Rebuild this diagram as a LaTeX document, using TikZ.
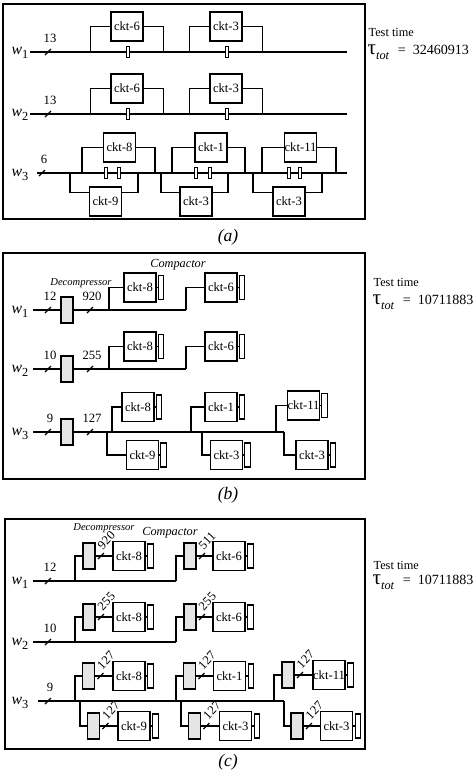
\documentclass[tikz,border=0pt]{standalone}
\usepackage{fontspec}
\setmainfont{Liberation Serif}
\tikzset{>=stealth}
\tikzset{
  ckt/.style={draw, minimum width=0.64cm, minimum height=0.58cm, inner sep=0pt, font=\fontsize{7.2}{8}\selectfont},
  dec/.style={draw, fill=gray!20, minimum width=0.24cm, minimum height=0.52cm, inner sep=0pt},
  cmp/.style={draw, minimum width=0.11cm, minimum height=0.48cm, inner sep=0pt},
  byp/.style={draw, fill=white, minimum width=0.06cm, minimum height=0.22cm, inner sep=0pt},
  num/.style={font=\fontsize{7.2}{8}\selectfont, inner sep=0pt},
  wl/.style={font=\fontsize{9}{10}\selectfont, inner sep=0pt},
  tt/.style={font=\fontsize{7}{8}\selectfont, anchor=west, inner sep=0pt},
  subcap/.style={font=\fontsize{10}{12}\selectfont\itshape, inner sep=0pt},
}
\newcommand{\wlab}[1]{\textit{w}\raisebox{-0.55ex}{\fontsize{7}{8}\selectfont #1}}
\newcommand{\busmark}[4]{\draw (#1-3,#2+3) -- (#1+3,#2-3); \node[num, anchor=south] (#4) at (#1+2,#2-9) {#3};}
\newcommand{\busrot}[4]{\draw (#1-3,#2+3) -- (#1+3,#2-3); \node[num, anchor=south west, rotate=47] (#4) at (#1+2,#2-5) {#3};}
\newcommand{\ttime}[1]{{\fontsize{12}{12}\selectfont τ}\raisebox{-0.6ex}{\fontsize{7}{8}\selectfont\itshape tot}\ \ {\fontsize{8}{9}\selectfont= \ #1}}

\begin{document}
\begin{tikzpicture}[x=0.02cm, y=-0.02cm, line width=0.7pt]
\useasboundingbox (0,0) rectangle (474,771);

% (a) bypass
\draw (3,4) rectangle (365,219);
\foreach \r/\y in {1/52, 2/114} {
  \node[wl] (wa\r) at (20,\y+1) {\wlab{\r}};
  \coordinate (sa\r) at (30,\y);
  \coordinate (ea\r) at (347,\y);
  \draw (sa\r) -- (ea\r);
  \busmark{48}{\y}{13}{na\r}
  \foreach \cx/\k in {127/6, 226/3} {
    \node[ckt] (a\r c\k) at (\cx,\y-25.5) {ckt-\k};
    \coordinate (a\r l\k) at (\cx-36.5,\y);
    \coordinate (a\r r\k) at (\cx+36.5,\y);
    \draw (a\r l\k) |- (a\r c\k.west);
    \draw (a\r c\k.east) -| (a\r r\k);
    \node[byp] (a\r b\k) at (\cx+1,\y) {};
  }
}
\node[wl] (wa3) at (20,175) {\wlab{3}};
\coordinate (sa3) at (37,173);
\coordinate (ea3) at (347,173);
\draw (sa3) -- (ea3);
\busmark{42}{173}{6}{na3}
\foreach \g/\ux/\ul/\ur/\uk/\lx/\ll/\lr/\lk/\tp/\tq in {1/119.5/82/155/8/105.5/70/138/9/106/119, 2/211/172/245/1/196/161/228/3/196/210, 3/300.5/262/336/11/289/253/322/3/289/300} {
  \node[ckt] (a3u\g) at (\ux,147.5) {ckt-\uk};
  \node[ckt] (a3d\g) at (\lx,201.5) {ckt-\lk};
  \coordinate (a3ul\g) at (\ul,173);
  \coordinate (a3ur\g) at (\ur,173);
  \coordinate (a3ll\g) at (\ll,173);
  \coordinate (a3lr\g) at (\lr,173);
  \draw (a3ul\g) |- (a3u\g.west);
  \draw (a3u\g.east) -| (a3ur\g);
  \draw (a3ll\g) |- ([yshift=-0.12cm]a3d\g.north west);
  \draw ([yshift=-0.12cm]a3d\g.north east) -| (a3lr\g);
  \node[byp] (a3s\g) at (\tp,173) {};
  \node[byp] (a3t\g) at (\tq,173) {};
}
\node[tt] (tta) at (368,32) {Test time};
\node[anchor=west, inner sep=0pt] (taua) at (367,52) {\ttime{32460913}};
\node[subcap] (capa) at (228,237) {(a)};

% (b) shared decompressor
\draw (3,253) rectangle (365,479);
\node[font=\fontsize{6}{7}\selectfont\itshape, inner sep=0pt] (decb) at (81,283) {Decompressor};
\node[font=\fontsize{7}{8}\selectfont\itshape, inner sep=0pt] (cmpb) at (178,265) {Compactor};
\foreach \r/\y/\m/\n in {1/310/12/920, 2/369/10/255} {
  \node[wl] (wb\r) at (20,\y+2) {\wlab{\r}};
  \coordinate (sb\r) at (33,\y);
  \node[dec] (db\r) at (67,\y) {};
  \coordinate (eb\r) at (186,\y);
  \draw (sb\r) -- (db\r) -- (eb\r);
  \busmark{48}{\y}{\m}{mb\r}
  \busmark{90}{\y}{\n}{nb\r}
  \foreach \jx/\bx/\k in {109/140/8, 186/221/6} {
    \coordinate (b\r j\k) at (\jx,\y);
    \node[ckt] (b\r c\k) at (\bx,\y-22.5) {ckt-\k};
    \node[cmp] (b\r p\k) at (\bx+21,\y-22.5) {};
    \draw (b\r j\k) |- (b\r c\k);
    \draw (b\r c\k) -- (b\r p\k);
  }
}
\node[wl] (wb3) at (20,434) {\wlab{3}};
\coordinate (sb3) at (33,432);
\node[dec] (db3) at (67,432) {};
\coordinate (eb3) at (284,432);
\draw (sb3) -- (db3) -- (eb3);
\busmark{48}{432}{9}{mb3}
\busmark{90}{432}{127}{nb3}
\foreach \g/\jx/\bx/\by/\k in {1/112/138/407/8, 2/191/221/407/1, 3/276/303.5/405.5/11, 4/107/142.5/455/9, 5/202/226.5/455/3, 6/284/312/455/3} {
  \coordinate (b3j\g) at (\jx,432);
  \node[ckt] (b3c\g) at (\bx,\by) {ckt-\k};
  \node[cmp] (b3p\g) at (\bx+21,\by) {};
  \draw (b3j\g) |- (b3c\g);
  \draw (b3c\g) -- (b3p\g);
}
\node[tt] (ttb) at (373,282) {Test time};
\node[anchor=west, inner sep=0pt] (taub) at (372,302) {\ttime{10711883}};
\node[subcap] (capb) at (228,495) {(b)};

% (c) one decompressor per core
\draw (5,519) rectangle (365,749);
\node[font=\fontsize{6}{7}\selectfont\itshape, inner sep=0pt] (decc) at (104,528) {Decompressor};
\node[font=\fontsize{7}{8}\selectfont\itshape, inner sep=0pt] (cmpc) at (170,533) {Compactor};
\foreach \r/\y/\m/\p/\q in {1/581/12/920/511, 2/642/10/255/255} {
  \node[wl] (wc\r) at (20,\y+2) {\wlab{\r}};
  \coordinate (sc\r) at (33,\y);
  \coordinate (ec\r) at (176,\y);
  \draw (sc\r) -- (ec\r);
  \busmark{48}{\y}{\m}{mc\r}
  \foreach \g/\jx/\dx/\bx/\k/\n in {1/75/89/129/8/\p, 2/176/190/229/6/\q} {
    \coordinate (c\r j\g) at (\jx,\y);
    \node[dec] (c\r d\g) at (\dx,\y-25) {};
    \node[ckt] (c\r c\g) at (\bx,\y-25) {ckt-\k};
    \node[cmp] (c\r p\g) at (\bx+21.5,\y-25) {};
    \draw (c\r j\g) |- (c\r d\g);
    \draw (c\r d\g) -- (c\r c\g) -- (c\r p\g);
    \busrot{\dx+12}{\y-25}{\n}{rc\r\g}
  }
}
\node[wl] (wc3) at (20,703) {\wlab{3}};
\coordinate (sc3) at (38,701);
\coordinate (ec3) at (284,701);
\draw (sc3) -- (ec3);
\busmark{48}{701}{9}{mc3}
\foreach \g/\jx/\dx/\bx/\by/\k in {1/75/88.5/129/676/8, 2/176/189.5/229.5/676/1, 3/274/288/329/675/11, 4/80/93.5/134/726/9, 5/181/194.5/235.5/726/3, 6/284/297/336.5/726/3} {
  \coordinate (c3j\g) at (\jx,701);
  \node[dec] (c3d\g) at (\dx,\by) {};
  \node[ckt] (c3c\g) at (\bx,\by) {ckt-\k};
  \node[cmp] (c3p\g) at (\bx+21.5,\by) {};
  \draw (c3j\g) |- (c3d\g);
  \draw (c3d\g) -- (c3c\g) -- (c3p\g);
  \busrot{\dx+12}{\by}{127}{rc3\g}
}
\node[tt] (ttc) at (373,565) {Test time};
\node[anchor=west, inner sep=0pt] (tauc) at (372,582) {\ttime{10711883}};
\node[subcap] (capc) at (228,762) {(c)};
\end{tikzpicture}
\end{document}
